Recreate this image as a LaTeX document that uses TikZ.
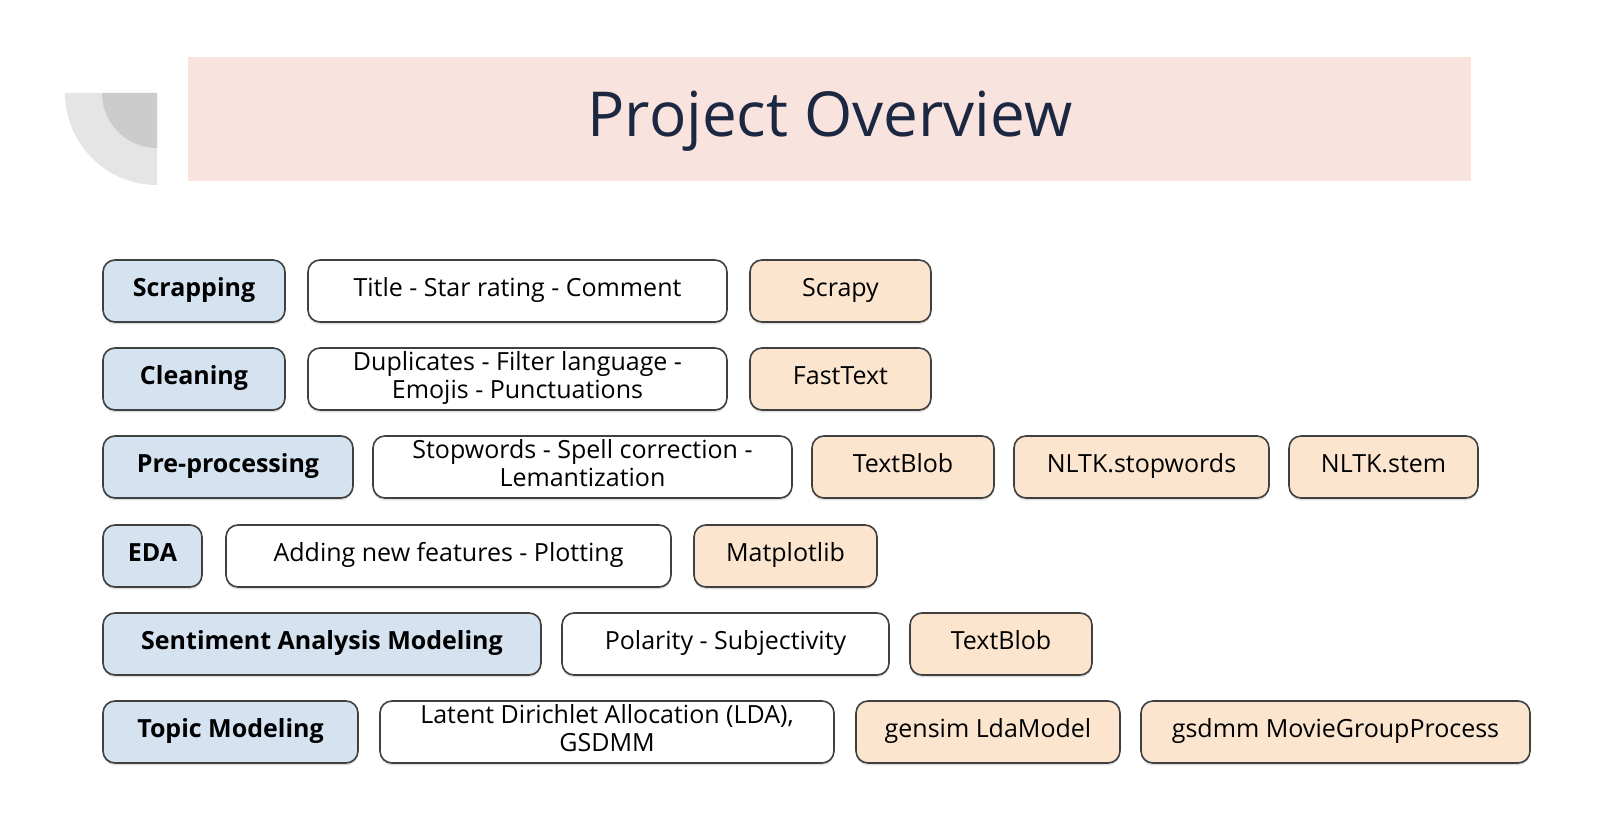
\documentclass[tikz,border=0pt]{standalone}
\usepackage{fontspec}
\setmainfont{Open Sans}
\usetikzlibrary{shadows}

\definecolor{stagefill}{HTML}{D5E2F0}
\definecolor{toolfill}{HTML}{FBE5CF}
\definecolor{titlefill}{HTML}{F9E3DF}
\definecolor{titletext}{HTML}{1C2841}

\tikzset{
  box/.style={draw=black!75, line width=0.8pt, rounded corners=6pt, inner sep=0pt,
    minimum height=31pt, align=center, font=\fontsize{12.5}{14}\selectfont,
    execute at begin node=\strut,
    drop shadow={shadow xshift=0pt, shadow yshift=-1.2pt, opacity=0.25}},
  stage/.style={box, fill=stagefill, font=\fontsize{12.5}{14}\selectfont\bfseries},
  detail/.style={box, fill=white},
  tool/.style={box, fill=toolfill}
}

% one box: style, name, left x, right x, row y, text
\newcommand{\pbox}[6]{\node[#1, minimum width={(#4-#3)*0.5pt}] (#2) at ({(#3+#4)/2},#5) {#6};}

\begin{document}
\begin{tikzpicture}[x=0.5pt, y=-0.5pt]

    % Page
    \useasboundingbox (0,0) rectangle (1600,840);

    % Corner ornament
    \fill[black!10] (157,93) -- (65,93) arc[start angle=180, end angle=90, radius=92] -- cycle;
    \fill[black!20] (157,93) -- (102,93) arc[start angle=180, end angle=90, radius=55] -- cycle;

    % Title banner
    \fill[titlefill] (188,57) rectangle (1471,181);
    \node[text=titletext, font=\fontsize{31}{34}\selectfont] (title) at (830,121) {Project Overview};

    % Scrapping
    \pbox{stage}{scrap}{103}{285}{291}{Scrapping}
    \pbox{detail}{scrapd}{308}{727}{291}{Title - Star rating - Comment}
    \pbox{tool}{scrapt}{750}{931}{291}{Scrapy}

    % Cleaning
    \pbox{stage}{clean}{103}{285}{379}{Cleaning}
    \pbox{detail}{cleand}{308}{727}{379}{Duplicates - Filter language -\\Emojis - Punctuations}
    \pbox{tool}{cleant}{750}{931}{379}{FastText}

    % Pre-processing
    \pbox{stage}{prep}{103}{353}{467}{Pre-processing}
    \pbox{detail}{prepd}{373}{792}{467}{Stopwords - Spell correction -\\Lemantization}
    \pbox{tool}{prepa}{812}{994}{467}{TextBlob}
    \pbox{tool}{prepb}{1014}{1269}{467}{NLTK.stopwords}
    \pbox{tool}{prepc}{1289}{1478}{467}{NLTK.stem}

    % EDA
    \pbox{stage}{eda}{103}{202}{556}{EDA}
    \pbox{detail}{edad}{226}{671}{556}{Adding new features - Plotting}
    \pbox{tool}{edat}{694}{877}{556}{Matplotlib}

    % Sentiment
    \pbox{stage}{senti}{103}{541}{644}{Sentiment Analysis Modeling}
    \pbox{detail}{sentid}{562}{889}{644}{Polarity - Subjectivity}
    \pbox{tool}{sentit}{910}{1092}{644}{TextBlob}

    % Topic modeling
    \pbox{stage}{topic}{103}{358}{732}{Topic Modeling}
    \pbox{detail}{topicd}{380}{834}{732}{Latent Dirichlet Allocation (LDA),\\GSDMM}
    \pbox{tool}{topica}{856}{1120}{732}{gensim LdaModel}
    \pbox{tool}{topicb}{1141}{1530}{732}{gsdmm MovieGroupProcess}

\end{tikzpicture}
\end{document}
